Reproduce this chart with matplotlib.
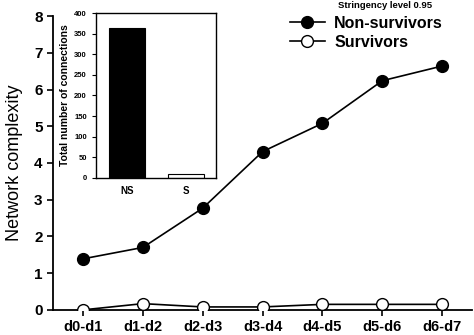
import numpy as np
import matplotlib
matplotlib.use('Agg')
import matplotlib.pyplot as plt
from matplotlib.lines import Line2D

plt.rcParams['font.family'] = ['Liberation Sans', 'DejaVu Sans']

intervals = ['d0-d1', 'd1-d2', 'd2-d3', 'd3-d4', 'd4-d5', 'd5-d6', 'd6-d7']
non_survivors = [1.39, 1.70, 2.77, 4.31, 5.08, 6.24, 6.64]
survivors = [0.0, 0.17, 0.08, 0.08, 0.15, 0.15, 0.15]

groups = ['NS', 'S']
connections = [364, 10]

fig = plt.figure(figsize=(4.74, 3.35), dpi=100)
ax = fig.add_axes([0.112, 0.075, 0.884, 0.877])

x = np.arange(len(intervals))
ax.plot(x, survivors, color='black', lw=1.2, marker='o', ms=8.5,
        mfc='white', mec='black', mew=1.0, label='Survivors', zorder=3)
ax.plot(x, non_survivors, color='black', lw=1.2, marker='o', ms=8.5,
        mfc='black', mec='black', label='Non-survivors', zorder=4)

ax.set_xlim(-0.5, 6.5)
ax.set_ylim(0, 8)
ax.set_xticks(x)
ax.set_xticklabels(intervals, fontsize=10.5, fontweight='bold')
ax.set_yticks(range(0, 9))
ax.set_yticklabels([str(v) for v in range(0, 9)], fontsize=11, fontweight='bold')
ax.set_ylabel('Network complexity', fontsize=13, labelpad=8)
ax.spines['top'].set_visible(False)
ax.spines['right'].set_visible(False)
ax.spines['left'].set_linewidth(1.3)
ax.spines['bottom'].set_linewidth(1.3)
ax.tick_params(direction='out', length=4, width=1.2)

handles = [
    Line2D([], [], color='black', lw=1.2, marker='o', ms=8.5, mfc='black', mec='black'),
    Line2D([], [], color='black', lw=1.2, marker='o', ms=8.5, mfc='white', mec='black'),
]
leg = ax.legend(handles, ['Non-survivors', 'Survivors'], loc='upper right',
                bbox_to_anchor=(0.965, 1.05), frameon=False, handlelength=2.2,
                handletextpad=0.6, labelspacing=0.25,
                prop={'size': 11.5, 'weight': 'bold'})
fig.text(0.713, 0.985, 'Stringency level 0.95', fontsize=6.8, fontweight='bold',
         ha='left', va='center')

# inset bar chart
ins = fig.add_axes([0.2025, 0.469, 0.253, 0.492])
ins.bar(range(len(groups)), connections, width=0.6, color=['black', 'white'],
        edgecolor='black', linewidth=0.8)
ins.set_xlim(-0.52, 1.5)
ins.set_ylim(0, 400)
ins.set_yticks(range(0, 401, 50))
ins.set_yticklabels([str(v) for v in range(0, 401, 50)], fontsize=5.5, fontweight='bold')
ins.set_xticks(range(len(groups)))
ins.set_xticklabels(groups, fontsize=7, fontweight='bold')
ins.tick_params(axis='x', length=0, pad=6)
ins.tick_params(axis='y', length=3, width=0.8)
ins.set_ylabel('Total number of connections', fontsize=7.5, fontweight='bold', labelpad=3)
for s in ins.spines.values():
    s.set_linewidth(1.0)

fig.savefig('out.png', dpi=100)
